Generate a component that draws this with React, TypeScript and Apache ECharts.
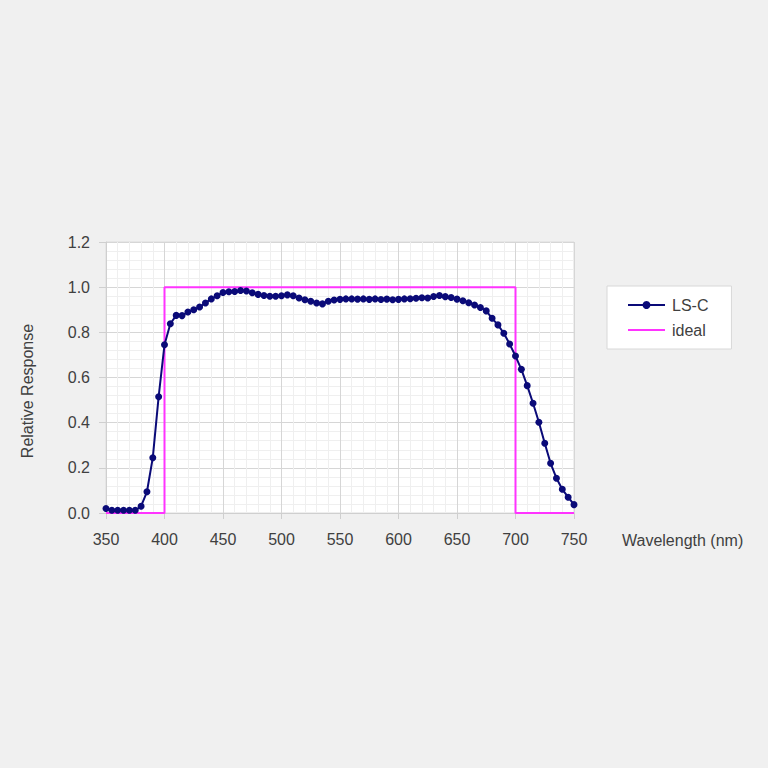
import React, { useEffect, useRef } from "react";
import * as echarts from "echarts";

// wavelength samples (nm), every 5 nm from 350 to 750
const wavelengths = [
  350, 355, 360, 365, 370, 375, 380, 385, 390, 395,
  400, 405, 410, 415, 420, 425, 430, 435, 440, 445,
  450, 455, 460, 465, 470, 475, 480, 485, 490, 495,
  500, 505, 510, 515, 520, 525, 530, 535, 540, 545,
  550, 555, 560, 565, 570, 575, 580, 585, 590, 595,
  600, 605, 610, 615, 620, 625, 630, 635, 640, 645,
  650, 655, 660, 665, 670, 675, 680, 685, 690, 695,
  700, 705, 710, 715, 720, 725, 730, 735, 740, 745,
  750,
];

const lscResponse = [
  0.02, 0.012, 0.012, 0.012, 0.012, 0.012, 0.03, 0.094, 0.245, 0.515,
  0.745, 0.838, 0.875, 0.874, 0.89, 0.9, 0.912, 0.93, 0.948, 0.962,
  0.976, 0.98, 0.981, 0.985, 0.983, 0.975, 0.968, 0.963, 0.96, 0.96,
  0.962, 0.966, 0.962, 0.952, 0.944, 0.938, 0.93, 0.926, 0.938, 0.943,
  0.946, 0.948, 0.948, 0.947, 0.948, 0.946, 0.948, 0.945, 0.947, 0.944,
  0.946, 0.948, 0.949, 0.951, 0.953, 0.952, 0.959, 0.963, 0.958, 0.954,
  0.947, 0.94, 0.931, 0.921, 0.91, 0.895, 0.862, 0.833, 0.796, 0.748,
  0.695, 0.636, 0.564, 0.486, 0.402, 0.309, 0.22, 0.154, 0.105, 0.07,
  0.037,
];

// ideal filter: square pass band 400-700 nm
const idealX = [350, 400, 400, 700, 700, 750];
const idealY = [0, 0, 1, 1, 0, 0];

const xTicks = [350, 400, 450, 500, 550, 600, 650, 700, 750];
const yTicks = [0, 0.2, 0.4, 0.6, 0.8, 1.0, 1.2];

const FONT = "Liberation Sans, Arial, sans-serif";
const TEXT = "#404040";
const MAGENTA = "#ff33ff";
const NAVY = "#0a0a78";

// thin horizontal bar in a 37x10 box, so the legend keeps it 2px high
const LINE_ICON = "path://M0,0 L37,0 L37,0.01 Z M0,4 L37,4 L37,6 L0,6 Z M0,10 L37,10 L37,9.99 Z";

const App: React.FC = () => {
  const chartRef = useRef<HTMLDivElement>(null);

  useEffect(() => {
    document.body.style.margin = "0";
    if (!chartRef.current) return;

    const chart = echarts.init(chartRef.current, undefined, { renderer: "svg" });
    chart.setOption({
      animation: false,
      backgroundColor: "#f0f0f0",
      textStyle: { fontFamily: FONT },
      grid: {
        left: 106,
        right: 194,
        top: 242,
        bottom: 255,
        show: true,
        backgroundColor: "#ffffff",
        borderColor: "#dcdcdc",
        borderWidth: 1,
      },
      legend: {
        orient: "vertical",
        left: 607,
        top: 286,
        padding: [11, 23, 11, 20],
        itemGap: 9,
        itemWidth: 37,
        itemHeight: 10,
        backgroundColor: "#ffffff",
        borderColor: "#d8d8d8",
        borderWidth: 1,
        textStyle: { fontFamily: FONT, fontSize: 16, color: TEXT, padding: [0, 0, 0, 2] },
        data: [
          { name: "LS-C" },
          { name: "ideal", icon: LINE_ICON, itemStyle: { color: MAGENTA } },
        ],
      },
      xAxis: {
        type: "value",
        min: xTicks[0],
        max: xTicks[xTicks.length - 1],
        interval: 50,
        name: "Wavelength (nm)",
        nameLocation: "end",
        nameGap: 48,
        nameTextStyle: {
          fontFamily: FONT,
          fontSize: 16,
          color: TEXT,
          align: "left",
          verticalAlign: "top",
          padding: [19, 0, 0, 0],
        },
        axisLine: { show: true, lineStyle: { color: "#cfcfcf" } },
        axisTick: { show: true, length: 6, lineStyle: { color: "#cfcfcf" } },
        axisLabel: { fontSize: 16, color: TEXT, margin: 18, fontFamily: FONT },
        splitLine: { show: true, lineStyle: { color: "#d6d6d6", width: 1 } },
        minorTick: { show: false, splitNumber: 5 },
        minorSplitLine: { show: true, lineStyle: { color: "#efefef", width: 1 } },
      },
      yAxis: {
        type: "value",
        min: yTicks[0],
        max: yTicks[yTicks.length - 1],
        interval: 0.2,
        axisLine: { show: true, lineStyle: { color: "#cfcfcf" } },
        axisTick: { show: true, length: 7, lineStyle: { color: "#cfcfcf" } },
        axisLabel: {
          fontSize: 16,
          color: TEXT,
          margin: 16,
          fontFamily: FONT,
          formatter: (v: number) => v.toFixed(1),
        },
        splitLine: { show: true, lineStyle: { color: "#d6d6d6", width: 1 } },
        minorTick: { show: false, splitNumber: 5 },
        minorSplitLine: { show: true, lineStyle: { color: "#efefef", width: 1 } },
      },
      graphic: [
        {
          type: "text",
          x: 27,
          y: 391,
          rotation: Math.PI / 2,
          style: {
            text: "Relative Response",
            fontFamily: FONT,
            fontSize: 16,
            fill: TEXT,
            align: "center",
            verticalAlign: "middle",
          },
        },
      ],
      series: [
        {
          name: "ideal",
          type: "line",
          data: idealX.map((x, i) => [x, idealY[i]]),
          symbol: "none",
          lineStyle: { color: MAGENTA, width: 2 },
          itemStyle: { color: MAGENTA },
          z: 2,
        },
        {
          name: "LS-C",
          type: "line",
          data: wavelengths.map((x, i) => [x, lscResponse[i]]),
          symbol: "circle",
          symbolSize: 7,
          lineStyle: { color: NAVY, width: 2 },
          itemStyle: { color: NAVY },
          z: 3,
        },
      ],
    });

    return () => {
      chart.dispose();
    };
  }, []);

  return <div ref={chartRef} style={{ width: "768px", height: "768px" }} />;
};

export default App;
